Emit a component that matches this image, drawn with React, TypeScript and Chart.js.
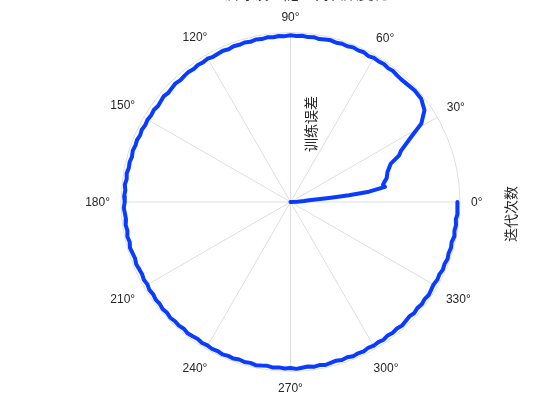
import React, { useEffect, useRef } from "react";
import { Chart, registerables } from "chart.js";

Chart.register(...registerables);

const titleText = "训练误差随迭代次数变化";
const radialLabel = "训练误差";
const angularLabel = "迭代次数";
const angleTicks = [0, 30, 60, 90, 120, 150, 180, 210, 240, 270, 300, 330];

const thetaDeg = [
  0, 2, 4, 5.3, 6, 6.6, 7.5, 9.1, 10.5, 12, 14, 17.2, 21, 23.3, 25, 28.4, 31, 34.5, 38.4, 42, 45,
  48, 50, 52, 54, 56, 58, 60, 62, 64, 66,
  68, 70, 72, 74, 76, 78, 80, 82, 84, 86,
  88, 90, 92, 94, 96, 98, 100, 102, 104, 106,
  108, 110, 112, 114, 116, 118, 120, 122, 124, 126,
  128, 130, 132, 134, 136, 138, 140, 142, 144, 146,
  148, 150, 152, 154, 156, 158, 160, 162, 164, 166,
  168, 170, 172, 174, 176, 178, 180, 182, 184, 186,
  188, 190, 192, 194, 196, 198, 200, 202, 204, 206,
  208, 210, 212, 214, 216, 218, 220, 222, 224, 226,
  228, 230, 232, 234, 236, 238, 240, 242, 244, 246,
  248, 250, 252, 254, 256, 258, 260, 262, 264, 266,
  268, 270, 272, 274, 276, 278, 280, 282, 284, 286,
  288, 290, 292, 294, 296, 298, 300, 302, 304, 306,
  308, 310, 312, 314, 316, 318, 320, 322, 324, 326,
  328, 330, 332, 334, 336, 338, 340, 342, 344, 346,
  348, 350, 352, 354, 356, 358, 360,
];

const errorR = [
  0, 0.04, 0.08, 0.109, 0.228, 0.347, 0.467, 0.565, 0.555, 0.566, 0.585, 0.599, 0.634, 0.698, 0.72,
  0.809, 0.9, 0.959, 0.984, 0.986, 0.98,
  0.976, 0.978, 0.983, 0.979, 0.985, 0.981, 0.984, 0.978, 0.986, 0.982,
  0.987, 0.981, 0.985, 0.98, 0.986, 0.983, 0.979, 0.985, 0.981, 0.986,
  0.983, 0.987, 0.982, 0.985, 0.98, 0.984, 0.979, 0.983, 0.977, 0.982,
  0.978, 0.981, 0.975, 0.98, 0.976, 0.973, 0.979, 0.974, 0.978, 0.972,
  0.977, 0.974, 0.97, 0.976, 0.972, 0.968, 0.975, 0.97, 0.966, 0.973,
  0.969, 0.974, 0.97, 0.976, 0.971, 0.977, 0.974, 0.979, 0.973, 0.978,
  0.975, 0.981, 0.976, 0.983, 0.977, 0.982, 0.978, 0.984, 0.979, 0.976,
  0.982, 0.977, 0.984, 0.978, 0.985, 0.98, 0.976, 0.982, 0.977, 0.974,
  0.98, 0.975, 0.982, 0.977, 0.983, 0.979, 0.985, 0.98, 0.986, 0.981,
  0.984, 0.979, 0.986, 0.982, 0.978, 0.984, 0.98, 0.985, 0.981, 0.987,
  0.982, 0.986, 0.98, 0.985, 0.981, 0.987, 0.983, 0.979, 0.985, 0.981,
  0.986, 0.982, 0.988, 0.983, 0.979, 0.985, 0.98, 0.986, 0.981, 0.977,
  0.983, 0.978, 0.985, 0.98, 0.984, 0.977, 0.982, 0.978, 0.983, 0.976,
  0.981, 0.977, 0.984, 0.979, 0.975, 0.982, 0.977, 0.983, 0.978, 0.984,
  0.979, 0.975, 0.981, 0.977, 0.984, 0.98, 0.986, 0.981, 0.985, 0.98,
  0.987, 0.982, 0.986, 0.981, 0.988, 0.984, 0.986,
];

const polarPlugin = {
  id: "polarGrid",
  beforeDatasetsDraw(chart: any) {
    const { ctx, scales } = chart;
    const cx = scales.x.getPixelForValue(0);
    const cy = scales.y.getPixelForValue(0);
    const R = scales.x.getPixelForValue(1) - cx;
    ctx.save();
    ctx.strokeStyle = "#dedede";
    ctx.lineWidth = 1;
    for (const a of angleTicks) {
      const rad = (a * Math.PI) / 180;
      ctx.beginPath();
      ctx.moveTo(cx, cy);
      ctx.lineTo(cx + R * Math.cos(rad), cy - R * Math.sin(rad));
      ctx.stroke();
    }
    ctx.beginPath();
    ctx.arc(cx, cy, R, 0, Math.PI * 2);
    ctx.stroke();
    ctx.restore();
  },
  afterDraw(chart: any) {
    const { ctx, scales } = chart;
    const cx = scales.x.getPixelForValue(0);
    const cy = scales.y.getPixelForValue(0);
    const R = scales.x.getPixelForValue(1) - cx;
    ctx.save();
    ctx.fillStyle = "#262626";
    ctx.font = '12px "Liberation Sans", Arial, sans-serif';
    ctx.textAlign = "center";
    ctx.textBaseline = "middle";
    for (const a of angleTicks) {
      const txt = a + "°";
      const w = ctx.measureText(txt).width;
      const rad = (a * Math.PI) / 180;
      const c = Math.cos(rad);
      const s = Math.sin(rad);
      const rr = R + 11 + 0.5 * Math.abs(c) * w + 5 * Math.abs(s);
      ctx.fillText(txt, cx + rr * c, cy - rr * s + 1);
    }
    // axis labels
    ctx.font = '14px "Noto Sans CJK SC", sans-serif';
    ctx.save();
    ctx.translate(311, 124);
    ctx.rotate(-Math.PI / 2);
    ctx.fillText(radialLabel, 0, 0);
    ctx.restore();
    ctx.save();
    ctx.translate(511, 214);
    ctx.rotate(-Math.PI / 2);
    ctx.fillText(angularLabel, 0, 0);
    ctx.restore();
    // title (mostly clipped at top)
    ctx.font = '15px "Noto Sans CJK SC", sans-serif';
    ctx.textBaseline = "alphabetic";
    ctx.fillText(titleText, 306, -1);
    ctx.restore();
  },
};

export default function App() {
  const ref = useRef<HTMLCanvasElement | null>(null);
  useEffect(() => {
    if (!ref.current) return;
    const pts = thetaDeg.map((t, i) => ({
      x: errorR[i] * Math.cos((t * Math.PI) / 180),
      y: errorR[i] * Math.sin((t * Math.PI) / 180),
    }));
    const chart = new Chart(ref.current, {
      type: "scatter",
      data: {
        datasets: [
          {
            data: pts,
            showLine: true,
            borderColor: "#0a3cff",
            backgroundColor: "#0a3cff",
            borderWidth: 4,
            borderJoinStyle: "round",
            borderCapStyle: "round",
            pointRadius: 0,
            tension: 0,
            clip: false as any,
          },
        ],
      },
      options: {
        responsive: false,
        animation: false,
        layout: { padding: { left: 121, right: 100, top: 33, bottom: 49 } },
        plugins: { legend: { display: false }, tooltip: { enabled: false } },
        scales: {
          x: { type: "linear", min: -1, max: 1, display: false },
          y: { type: "linear", min: -1, max: 1, display: false },
        },
      },
      plugins: [polarPlugin],
    });
    return () => chart.destroy();
  }, []);
  return (
    <div style={{ position: "fixed", left: 0, top: 0, width: 560, height: 420, background: "#fff" }}>
      <canvas ref={ref} width={560} height={420} style={{ width: 560, height: 420 }} />
    </div>
  );
}
